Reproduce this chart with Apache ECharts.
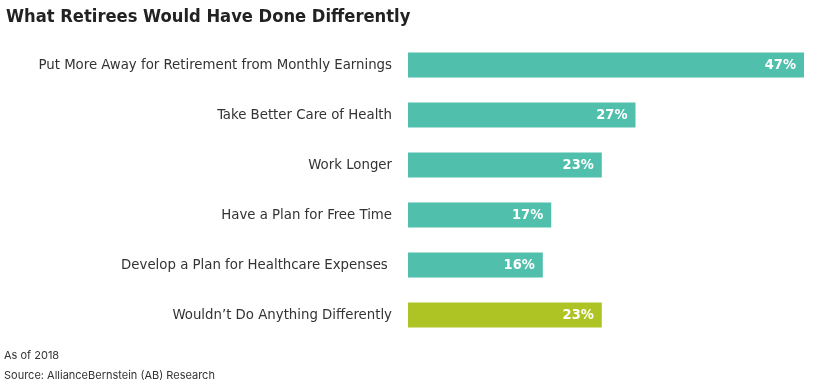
<!DOCTYPE html>
<html><head><meta charset="utf-8">
<script src="https://cdn.jsdelivr.net/npm/echarts@6/dist/echarts.min.js"></script>
<style>html,body{margin:0;padding:0;background:#fff}#c{width:840px;height:384px}</style>
</head><body><div id="c"></div>
<script>
const categories = ["Put More Away for Retirement from Monthly Earnings","Take Better Care of Health","Work Longer","Have a Plan for Free Time","Develop a Plan for Healthcare Expenses ","Wouldn\u2019t Do Anything Differently"];
const values = [47, 27, 23, 17, 16, 23];
const barColors = ["#50bfac","#50bfac","#50bfac","#50bfac","#50bfac","#aec424"];
const chart = echarts.init(document.getElementById('c'));
chart.setOption({
  animation:false,
  title:[
    {text:"What Retirees Would Have Done Differently",left:6,top:8,padding:0,textStyle:{fontFamily:"DejaVu Sans Condensed",fontWeight:"bold",fontSize:18.2,color:"#222"}},
    {text:"As of 2018",left:4,top:350,padding:0,textStyle:{fontFamily:"Inter",fontWeight:"normal",fontSize:11,color:"#333"}},
    {text:"Source: AllianceBernstein (AB) Research",left:4,top:370,padding:0,textStyle:{fontFamily:"Inter",fontWeight:"normal",fontSize:11,color:"#333"}}
  ],
  grid:{left:408,width:396,top:40,height:300},
  xAxis:{type:'value',min:0,max:47,show:false},
  yAxis:{type:'category',data:categories,inverse:true,axisLine:{show:false},axisTick:{show:false},
    axisLabel:{margin:16,fontFamily:"DejaVu Sans Condensed",fontSize:14.8,color:"#333"}},
  series:[{type:'bar',data:values.map((v,i)=>({value:v,itemStyle:{color:barColors[i]}})),barWidth:25,
    label:{show:true,position:'insideRight',formatter:'{c}%',color:'#fff',fontWeight:'bold',fontFamily:"DejaVu Sans Condensed",fontSize:14.5,distance:8}}]
});
</script></body></html>
